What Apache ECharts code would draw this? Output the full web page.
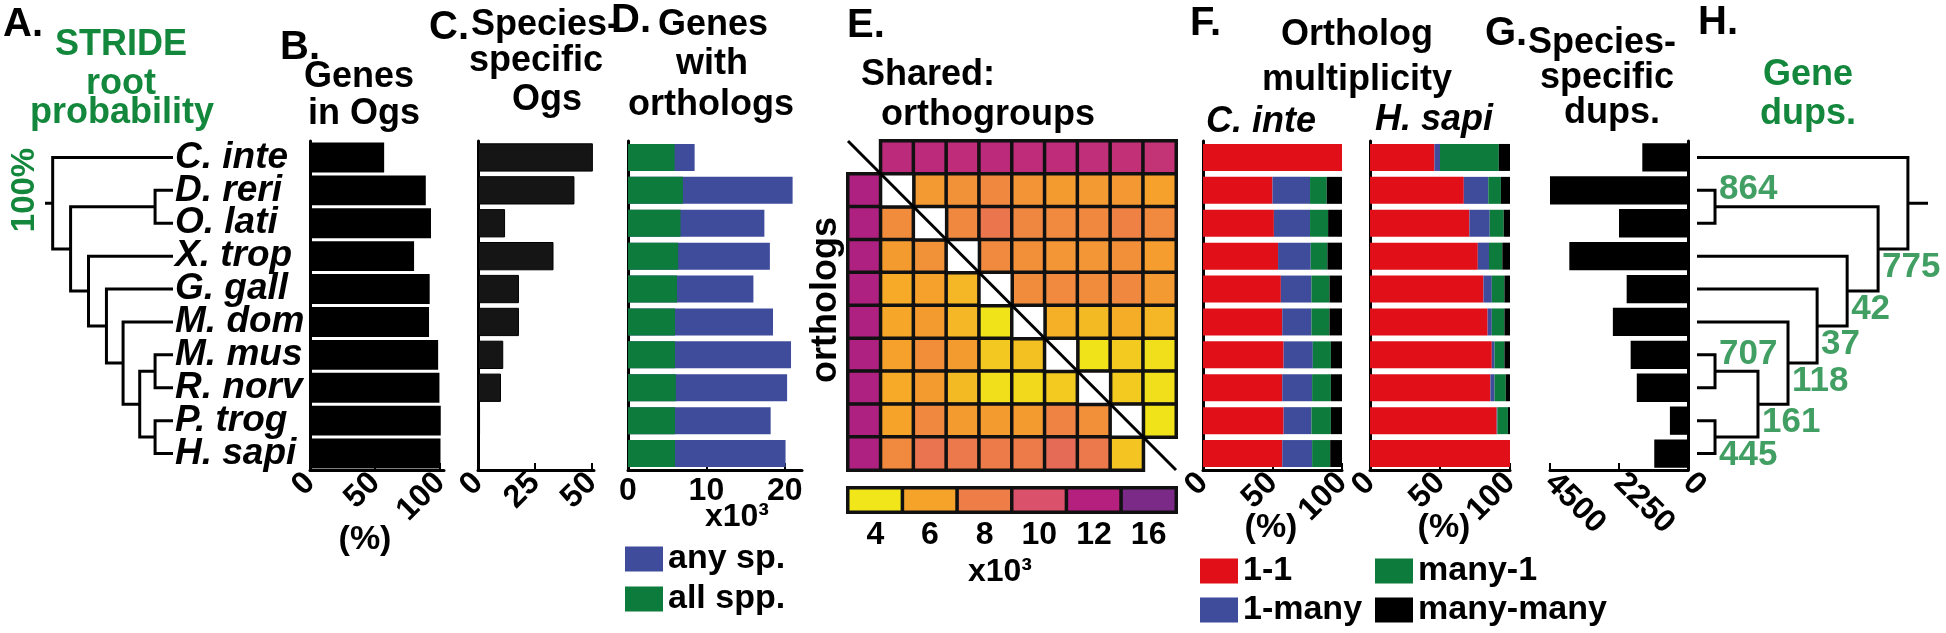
<!DOCTYPE html>
<html><head><meta charset="utf-8">
<script src="https://cdn.jsdelivr.net/npm/echarts@6/dist/echarts.min.js"></script>
<style>html,body{margin:0;padding:0;background:#fff}#c{width:1946px;height:633px}</style>
</head><body><div id="c"></div>
<script>
// ---------------- data ----------------
const species = ['C. inte','D. reri','O. lati','X. trop','G. gall','M. dom','M. mus','R. norv','P. trog','H. sapi'];
const genesInOgs = [57, 89, 93, 80, 92, 91.5, 98.5, 99.5, 100.5, 100.3];            // %
const speciesSpecificOgs = [50.5, 42.4, 11.9, 33.2, 18, 18, 11.1, 10.1, 0.9, 0.8];   // %
const orthoAnySp = [8.5, 21.0, 17.4, 18.1, 16.0, 18.5, 20.8, 20.3, 18.2, 20.1];      // x10^3
const orthoAllSpp = [5.95, 7.0, 6.7, 6.4, 6.25, 6.0, 6.0, 6.1, 6.0, 6.0];           // x10^3
// shared matrix (x10^3): null = no cell, 0 = self (white)
const sharedMatrix = [
  [null, 11.6, 11.6, 11.5, 11.6, 11.5, 11.5, 11.4, 11.3, 11.2],
  [12.4, 0, 6.5, 6.9, 7.4, 6.8, 6.4, 6.5, 6.6, 6.1],
  [12.4, 7.2, 0, 7.4, 8.3, 7.5, 7.3, 7.4, 7.8, 7.3],
  [12.4, 6.4, 6.9, 0, 7.3, 7.0, 6.7, 6.7, 7.0, 6.3],
  [12.4, 5.8, 6.1, 5.4, 0, 7.2, 7.3, 7.2, 7.4, 6.5],
  [12.4, 5.9, 6.4, 5.4, 4.1, 0, 5.6, 5.3, 5.7, 5.4],
  [12.4, 6.1, 7.1, 6.4, 4.9, 5.1, 0, 4.1, 4.8, 4.2],
  [12.4, 5.8, 6.4, 5.3, 4.2, 4.4, 4.8, 0, 4.8, 4.2],
  [12.4, 6.0, 7.4, 6.4, 6.4, 6.4, 7.7, 7.0, 0, 4.1],
  [12.4, 7.3, 8.4, 8.2, 8.1, 8.1, 8.8, 8.2, 5.0, null]
];
const colorbarTicks = [4, 6, 8, 10, 12, 16];
const multNames = ['1-1', '1-many', 'many-1', 'many-many'];
const cInteOneOne   = [100, 50, 51, 54, 56, 57, 58, 57, 58, 57];
const cInteOneMany  = [0, 27, 26, 23.5, 22, 21, 21, 21.5, 20, 21.5];
const cInteManyOne  = [0, 12, 13, 12, 13, 13, 13, 13.5, 14, 13];
const cInteManyMany = [0, 11, 10, 10.5, 9, 9, 8, 8, 8, 8.5];
const hSapiOneOne   = [46, 67, 71, 77, 81, 84, 87, 86, 90.5, 100];
const hSapiOneMany  = [4, 17.5, 14.5, 8, 6, 3, 2, 3, 0.5, 0];
const hSapiManyOne  = [42, 9, 10, 9.5, 9, 9, 7, 8, 7.5, 0];
const hSapiManyMany = [8, 6.5, 4.5, 5.5, 4, 4, 4, 3, 1.5, 0];
const speciesDups = [1490, 4520, 2250, 3870, 2000, 2450, 1870, 1670, 590, 1100];
// tree topology (numbers = species row index)
const treeChildren = {n1:[0,'n2'], n2:['nDO','n3'], nDO:[1,2], n3:[3,'n4'], n4:[4,'n5'], n5:[5,'n6'], n6:['nMR','nPH'], nMR:[6,7], nPH:[8,9]};
const treeDepthA = {stub:0, n1:6, n2:20, n3:34, n4:48, n5:61, n6:74, nDO:86, nMR:86, nPH:86, tip:100};
const treeDepthH = {stub:0, n1:8.7, n2:21.6, n3:35, n4:48, n5:60.6, n6:73.6, nDO:92.2, nMR:92.2, nPH:92.2, tip:100};
const geneDups = {nDO:864, n2:775, n3:42, n4:37, n5:118, nMR:707, n6:161, nPH:445};
const geneDupsAbove = ['nDO', 'nMR'];

// ---------------- helpers ----------------
const FONT = '"Liberation Sans", Arial, Helvetica, sans-serif';
const GREEN = '#13873c';
const ROW_TOP = 141, ROW_H = 329;
const grids = [], xAxis = [], yAxis = [], series = [], graphic = [];
const addGrid = g => (grids.push(g), grids.length - 1);
const addX = a => (xAxis.push(a), xAxis.length - 1);
const addY = a => (yAxis.push(a), yAxis.length - 1);

function nodeY(id){ if (typeof id === 'number') return id; const k = treeChildren[id]; return (nodeY(k[0]) + nodeY(k[1])) / 2; }
function nodeX(id, d){ return typeof id === 'number' ? d.tip : d[id]; }
function treeLines(d){
  const out = [];
  for (const id in treeChildren){
    const [a, b] = treeChildren[id]; const xp = d[id];
    out.push({coords: [[nodeX(a,d), nodeY(a)], [xp, nodeY(a)], [xp, nodeY(b)], [nodeX(b,d), nodeY(b)]]});
  }
  out.push({coords: [[d.n1, nodeY('n1')], [d.stub, nodeY('n1')]]});
  return out;
}
const lblStyle = {color:'#000', fontSize:32, fontWeight:'bold', fontFamily:FONT};
function valX(gi, max, ticks, opt){
  opt = opt || {};
  const step = ticks[1] - ticks[0];
  return {type:'value', gridIndex:gi, min:0, max:max, interval:step, inverse:!!opt.inverse,
    axisLine:{show:true, onZero:false, lineStyle:{color:'#000', width:3}},
    axisTick:{show:true, inside:true, length:7, lineStyle:{color:'#000', width:2}, customValues:ticks},
    axisLabel:Object.assign({customValues:ticks, rotate:opt.rotate === undefined ? 45 : opt.rotate, margin:opt.margin || 8,
      formatter: v => (ticks.indexOf(v) >= 0 ? String(v) : '')}, lblStyle),
    splitLine:{show:false}};
}
function catY(gi, pos){
  return {type:'category', gridIndex:gi, data:species, inverse:true, position:pos || 'left',
    axisLine:{show:true, onZero:false, lineStyle:{color:'#000', width:3}}, axisTick:{show:false}, axisLabel:{show:false}, splitLine:{show:false}};
}
function txt(s, x, y, o){
  o = o || {};
  const al = o.align || 'center';
  graphic.push({type:'text', x:x, y:y, rotation:o.rot || 0, silent:true, z:100,
    style:{text:s, fill:o.color || '#000',
      font:(o.italic ? 'italic ' : '') + 'bold ' + (o.size || 36) + 'px ' + FONT,
      align:al, verticalAlign:'middle', textAlign:al, textVerticalAlign:'middle'}});
}

// ---------------- Panel A: species tree ----------------
const gA = addGrid({left:45, top:ROW_TOP, width:128, height:ROW_H});
const xA = addX({type:'value', gridIndex:gA, min:0, max:100, show:false});
const yA = addY({type:'value', gridIndex:gA, min:-0.5, max:9.5, inverse:true, show:false});
addY({type:'category', gridIndex:gA, data:species, inverse:true, position:'right',
  axisLine:{show:false}, axisTick:{show:false}, splitLine:{show:false},
  axisLabel:{show:true, interval:0, color:'#000', fontSize:37, fontWeight:'bold', fontStyle:'italic', fontFamily:FONT, align:'left', margin:2}});
series.push({type:'lines', coordinateSystem:'cartesian2d', xAxisIndex:xA, yAxisIndex:yA, polyline:true, silent:true,
  data:treeLines(treeDepthA), lineStyle:{color:'#000', width:3, opacity:1}});

// ---------------- Panel B ----------------
const gB = addGrid({left:310, top:ROW_TOP, width:134, height:ROW_H});
const xB = addX(valX(gB, 103, [0, 50, 100]));
const yB = addY(catY(gB));
series.push({type:'bar', xAxisIndex:xB, yAxisIndex:yB, data:genesInOgs, barCategoryGap:'9%', itemStyle:{color:'#000'}, silent:true});

// ---------------- Panel C ----------------
const gC = addGrid({left:478, top:ROW_TOP, width:116, height:ROW_H});
const xC = addX(valX(gC, 51, [0, 25, 50]));
const yC = addY(catY(gC));
series.push({type:'bar', xAxisIndex:xC, yAxisIndex:yC, data:speciesSpecificOgs, barCategoryGap:'14%', itemStyle:{color:'#151515', borderColor:'#000', borderWidth:1}, silent:true});

// ---------------- Panel D ----------------
const gD = addGrid({left:628, top:ROW_TOP, width:174, height:ROW_H});
const xD = addX(valX(gD, 22.2, [0, 10, 20], {rotate:0, margin:5}));
const yD = addY(catY(gD));
series.push({type:'bar', name:'any sp.', xAxisIndex:xD, yAxisIndex:yD, data:orthoAnySp, barGap:'-100%', barCategoryGap:'18%', itemStyle:{color:'#3f4b9b'}, silent:true});
series.push({type:'bar', name:'all spp.', xAxisIndex:xD, yAxisIndex:yD, data:orthoAllSpp, barGap:'-100%', barCategoryGap:'18%', itemStyle:{color:'#0c7b3b'}, silent:true});

// ---------------- Panel E: heatmap ----------------
const gE = addGrid({left:848, top:ROW_TOP, width:328, height:ROW_H});
const xE = addX({type:'category', gridIndex:gE, data:species, show:false});
const yE = addY({type:'category', gridIndex:gE, data:species, inverse:true, show:false});
const heat = [], selfCells = [];
sharedMatrix.forEach((row, r) => row.forEach((v, c) => {
  if (v === null) return;
  if (v === 0) selfCells.push([c, r, 0]); else heat.push([c, r, v]);
}));
const heatIdx = series.length;
series.push({type:'heatmap', xAxisIndex:xE, yAxisIndex:yE, data:heat, silent:true, itemStyle:{borderColor:'#111', borderWidth:3.5}});
series.push({type:'heatmap', xAxisIndex:xE, yAxisIndex:yE, data:selfCells, silent:true, itemStyle:{color:'#fff', borderColor:'#111', borderWidth:3.5}});
const gE2 = addGrid({left:848, top:ROW_TOP, width:328, height:ROW_H});
const xE2 = addX({type:'value', gridIndex:gE2, min:0, max:10, show:false});
const yE2 = addY({type:'value', gridIndex:gE2, min:0, max:10, inverse:true, show:false});
series.push({type:'lines', coordinateSystem:'cartesian2d', xAxisIndex:xE2, yAxisIndex:yE2, silent:true, z:10,
  data:[{coords:[[0, 0], [species.length, species.length]]}], lineStyle:{color:'#000', width:3, opacity:1}});
const gEL = addGrid({left:848, top:488, width:328, height:24});
const xEL = addX({type:'category', gridIndex:gEL, data:colorbarTicks.map(String), axisLine:{show:false}, axisTick:{show:false},
  axisLabel:Object.assign({margin:7, interval:0}, lblStyle)});
const yEL = addY({type:'category', gridIndex:gEL, data:[''], show:false});
const legHeatIdx = series.length;
series.push({type:'heatmap', xAxisIndex:xEL, yAxisIndex:yEL, silent:true, data:colorbarTicks.map((v, i) => [i, 0, v]), itemStyle:{borderColor:'#111', borderWidth:3.5}});

// ---------------- Panel F ----------------
const multColors = ['#e10f17', '#3f4b9b', '#0c7b3b', '#000000'];
function multPanel(left, width, arrs){
  const gi = addGrid({left:left, top:ROW_TOP, width:width, height:ROW_H});
  const xi = addX(valX(gi, 100, [0, 50, 100]));
  const yi = addY(catY(gi));
  multNames.forEach((n, k) => series.push({type:'bar', name:n, stack:'s' + gi, xAxisIndex:xi, yAxisIndex:yi, data:arrs[k], silent:true,
    barCategoryGap:'18%', itemStyle:{color:multColors[k]}}));
}
multPanel(1203, 139, [cInteOneOne, cInteOneMany, cInteManyOne, cInteManyMany]);
multPanel(1370, 140, [hSapiOneOne, hSapiOneMany, hSapiManyOne, hSapiManyMany]);

// ---------------- Panel G ----------------
const gG = addGrid({left:1550, top:ROW_TOP, width:138, height:ROW_H});
const xG = addX(valX(gG, 4500, [0, 2250, 4500], {inverse:true, rotate:-45, margin:8}));
const yG = addY(catY(gG, 'right'));
series.push({type:'bar', xAxisIndex:xG, yAxisIndex:yG, data:speciesDups, barCategoryGap:'14%', itemStyle:{color:'#000'}, silent:true});

// ---------------- Panel H: gene-duplication tree ----------------
const gH = addGrid({left:1697, top:ROW_TOP, width:231, height:ROW_H});
const xH = addX({type:'value', gridIndex:gH, min:0, max:100, inverse:true, show:false});
const yH = addY({type:'value', gridIndex:gH, min:-0.5, max:9.5, inverse:true, show:false});
series.push({type:'lines', coordinateSystem:'cartesian2d', xAxisIndex:xH, yAxisIndex:yH, polyline:true, silent:true,
  data:treeLines(treeDepthH), lineStyle:{color:'#000', width:3, opacity:1}});
series.push({type:'scatter', xAxisIndex:xH, yAxisIndex:yH, symbolSize:0, silent:true, z:5,
  data:Object.keys(geneDups).map(id => ({name:String(geneDups[id]), value:[treeDepthH[id], nodeY(id)],
    label:{offset:[4, geneDupsAbove.indexOf(id) >= 0 ? -17 : 18]}})),
  label:{show:true, position:'right', distance:0, formatter:'{b}', color:GREEN, fontSize:35, fontWeight:'bold', fontFamily:FONT}});

// ---------------- texts ----------------
txt('A.', 3, 25, {align:'left', size:40});
txt('STRIDE', 121, 45, {color:GREEN});
txt('root', 121, 84, {color:GREEN});
txt('probability', 122, 113, {color:GREEN});
txt('100%', 25, 190, {color:GREEN, rot:Math.PI / 2, size:33});
txt('B.', 280, 48, {align:'left', size:40});
txt('Genes', 359, 77); txt('in Ogs', 364, 114);
txt('C.', 429, 28, {align:'left', size:40});
txt('Species-', 545, 25); txt('specific', 536, 61); txt('Ogs', 547, 100);
txt('D.', 611, 21, {align:'left', size:40});
txt('Genes', 713, 25); txt('with', 712, 64); txt('orthologs', 711, 105);
txt('x10\u00b3', 737, 517, {size:32});
txt('E.', 847, 26, {align:'left', size:40});
txt('Shared:', 928, 75); txt('orthogroups', 988, 115);
txt('orthologs', 826, 300, {rot:Math.PI / 2});
txt('x10\u00b3', 1000, 572, {size:32});
txt('F.', 1190, 24, {align:'left', size:40});
txt('Ortholog', 1357, 35); txt('multiplicity', 1357, 80);
txt('C. inte', 1206, 122, {align:'left', italic:true});
txt('H. sapi', 1434, 120, {italic:true});
txt('G.', 1485, 34, {align:'left', size:40});
txt('Species-', 1602, 43); txt('specific', 1607, 78); txt('dups.', 1612, 113);
txt('H.', 1698, 23, {align:'left', size:40});
txt('Gene', 1808, 75, {color:GREEN}); txt('dups.', 1808, 114, {color:GREEN});
txt('(%)', 365, 540, {size:34});
txt('(%)', 1271, 528, {size:34});
txt('(%)', 1444, 528, {size:34});

const legText = {color:'#000', fontSize:34, fontWeight:'bold', fontFamily:FONT, lineHeight:34};
const legBase = {orient:'vertical', icon:'rect', itemWidth:38, itemHeight:25, selectedMode:false, textStyle:legText, padding:0};

const chart = echarts.init(document.getElementById('c'), null, {renderer:'canvas'});
chart.setOption({
  backgroundColor:'#fff', animation:false,
  grid:grids, xAxis:xAxis, yAxis:yAxis, series:series, graphic:graphic,
  legend:[
    Object.assign({left:625, top:542, itemGap:6, data:['any sp.', 'all spp.']}, legBase),
    Object.assign({left:1200, top:554, itemGap:5, data:['1-1', '1-many']}, legBase),
    Object.assign({left:1375, top:554, itemGap:5, data:['many-1', 'many-many']}, legBase)
  ],
  visualMap:{type:'continuous', show:false, min:4, max:16, dimension:2, seriesIndex:[heatIdx, legHeatIdx],
    inRange:{color:['#f1e619', '#f6a32a', '#ee7d48', '#d9516b', '#b5207f', '#992584', '#7c2a88']}}
});
</script>
</body></html>
